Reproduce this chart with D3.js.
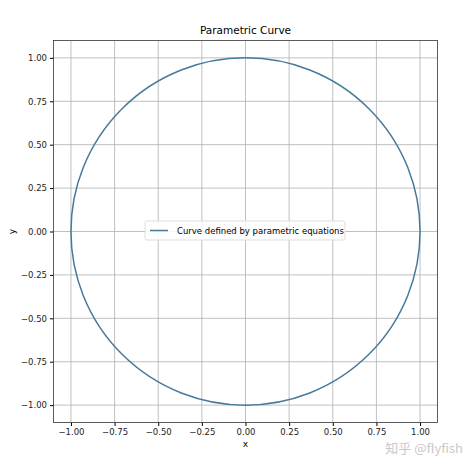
<!DOCTYPE html>
<html><head><meta charset="utf-8">
<script src="https://cdn.jsdelivr.net/npm/d3@7"></script>
<style>body{margin:0;background:#fff}text{font-family:"DejaVu Sans",sans-serif}</style>
</head><body>
<script>
// curve: circle of radius 1 about the origin
var curveCenter = [0, 0]
var curveRadius = 1
var xTicks = [-1, -0.75, -0.5, -0.25, 0, 0.25, 0.5, 0.75, 1]
var yTicks = [-1, -0.75, -0.5, -0.25, 0, 0.25, 0.5, 0.75, 1]
var legendLabel = 'Curve defined by parametric equations'

;(function(){
var W = 474, H = 469
var pL = 53.5, pR = 437.5, pT = 40.5, pB = 422.5

var svg = d3.select('body').append('svg').attr('width', W).attr('height', H)

var x = d3.scaleLinear().domain([-1.1, 1.1]).range([pL, pR])
var y = d3.scaleLinear().domain([-1.1, 1.1]).range([pB, pT])

// grid
svg.append('g').selectAll('line').data(xTicks).enter().append('line')
  .attr('x1', d => x(d)).attr('x2', d => x(d)).attr('y1', pT).attr('y2', pB)
  .style('stroke', '#b0b0b0').style('stroke-width', 0.8)
svg.append('g').selectAll('line').data(yTicks).enter().append('line')
  .attr('y1', d => y(d)).attr('y2', d => y(d)).attr('x1', pL).attr('x2', pR)
  .style('stroke', '#b0b0b0').style('stroke-width', 0.8)

// curve
svg.append('ellipse')
  .attr('cx', x(curveCenter[0])).attr('cy', y(curveCenter[1]))
  .attr('rx', x(curveRadius) - x(0)).attr('ry', y(0) - y(curveRadius))
  .style('fill', 'none').style('stroke', '#447a9c').style('stroke-width', 1.5)

// axes
var fmt = d3.format('.2f')
var minus = d => fmt(d).replace('-', '\u2212')
svg.append('g').attr('transform', 'translate(0,' + pB + ')')
  .call(d3.axisBottom(x).tickValues(xTicks).tickFormat(minus).tickSizeOuter(0).tickSize(3.5).tickPadding(3))
svg.append('g').attr('transform', 'translate(' + pL + ',0)')
  .call(d3.axisLeft(y).tickValues(yTicks).tickFormat(minus).tickSizeOuter(0).tickSize(3.5).tickPadding(3))
svg.selectAll('.tick text').style('font-size', '8.5px').style('fill', '#222')
svg.selectAll('.domain').remove()
svg.append('rect').attr('x', pL).attr('y', pT).attr('width', pR - pL).attr('height', pB - pT)
  .style('fill', 'none').style('stroke', '#333').style('stroke-width', 0.8)

svg.append('text').attr('x', (pL + pR) / 2).attr('y', 34).attr('text-anchor', 'middle')
  .style('font-size', '10.5px').text('Parametric Curve')
svg.append('text').attr('x', (pL + pR) / 2).attr('y', 447).attr('text-anchor', 'middle')
  .style('font-size', '9px').text('x')
svg.append('text').attr('transform', 'translate(15,' + (pT + pB) / 2 + ') rotate(-90)')
  .attr('text-anchor', 'middle').style('font-size', '9px').text('y')

// legend
var lg = svg.append('g').attr('transform', 'translate(145,221)')
lg.append('rect').attr('width', 200).attr('height', 19).attr('rx', 2)
  .style('fill', '#fff').style('fill-opacity', 0.85).style('stroke', '#ddd')
lg.append('line').attr('x1', 5).attr('x2', 23).attr('y1', 9.5).attr('y2', 9.5)
  .style('stroke', '#447a9c').style('stroke-width', 1.5)
lg.append('text').attr('x', 32).attr('y', 13).style('font-size', '8.5px').text(legendLabel)

// watermark
svg.append('text').attr('x', 463).attr('y', 453).attr('text-anchor', 'end')
  .style('font-family', '"Noto Sans CJK SC",sans-serif').style('font-size', '13px')
  .style('fill', '#c8c8c8').text('知乎 @flyfish')
})()
</script>
</body></html>
